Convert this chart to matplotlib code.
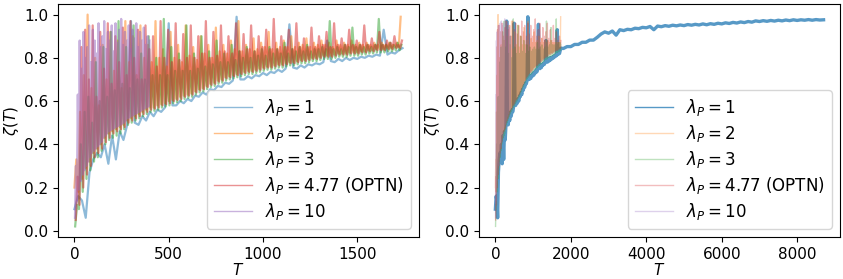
import numpy as np
import matplotlib.pyplot as plt

# Legend labels (one per arrival rate)
labels = [r"$\lambda_P = 1$", r"$\lambda_P = 2$", r"$\lambda_P = 3$",
          r"$\lambda_P = 4.77$ (OPTN)", r"$\lambda_P = 10$"]

# Time steps T for each run
t_lam1 = np.concatenate([np.arange(0, 1760, 20), np.arange(1800, 8800, 100)])
t_lam2 = np.arange(0, 1740, 10)
t_lam3 = np.arange(4, 1744, 10)
t_lam477 = np.arange(7, 1747, 10)
t_lam10 = np.arange(3, 403, 5)

# zeta(T) values
z_lam1 = [0.10, 0.16, 0.14, 0.06, 0.27, 0.33, 0.36, 0.34, 0.40, 0.31,
          0.44, 0.33, 0.46, 0.42, 0.49, 0.97, 0.50, 0.49, 0.53, 0.51,
          0.55, 0.53, 0.56, 0.55, 0.57, 0.96, 0.58, 0.58, 0.60, 0.59,
          0.61, 0.60, 0.625, 0.62, 0.64, 0.63, 0.655, 0.65, 0.67, 0.665,
          0.685, 0.68, 0.695, 0.99, 0.70, 0.70, 0.715, 0.705, 0.72, 0.715,
          0.73, 0.72, 0.735, 0.73, 0.745, 0.735, 0.75, 0.955, 0.755, 0.75,
          0.765, 0.755, 0.77, 0.765, 0.775, 0.77, 0.78, 0.88, 0.785, 0.78,
          0.795, 0.785, 0.80, 0.79, 0.80, 0.795, 0.805, 0.80, 0.81, 0.805,
          0.815, 0.81, 0.93, 0.815, 0.825, 0.82, 0.835, 0.845,
          # long run beyond T = 1750
          0.843, 0.852, 0.852, 0.862, 0.862, 0.872, 0.872, 0.882, 0.882, 0.895,
          0.910, 0.920, 0.914, 0.924, 0.905, 0.930, 0.926, 0.932, 0.930, 0.937,
          0.935, 0.941, 0.939, 0.945, 0.930, 0.947, 0.944, 0.949, 0.946, 0.951,
          0.948, 0.952, 0.949, 0.954, 0.951, 0.955, 0.952, 0.957, 0.953, 0.958,
          0.955, 0.960, 0.957, 0.962, 0.959, 0.964, 0.961, 0.966, 0.963, 0.968,
          0.965, 0.971, 0.968, 0.972, 0.969, 0.973, 0.970, 0.974, 0.971, 0.975,
          0.972, 0.976, 0.973, 0.976, 0.974, 0.977, 0.974, 0.977, 0.975, 0.976]

z_lam2 = [0.20, 0.33, 0.18, 0.55, 0.24, 0.72, 0.29, 1.00, 0.32, 0.66,
          0.36, 0.80, 0.38, 0.58, 0.40, 0.86, 0.43, 0.70, 0.45, 0.92,
          0.46, 0.74, 0.47, 0.88, 0.48, 0.66, 0.49, 0.97, 0.51, 0.78,
          0.52, 0.90, 0.53, 0.72, 0.54, 0.95, 0.55, 0.80, 0.56, 0.86,
          0.57, 0.78, 0.57, 0.97, 0.58, 0.80, 0.585, 0.84, 0.59, 0.76,
          0.60, 0.92, 0.605, 0.80, 0.61, 0.86, 0.62, 0.78, 0.625, 0.95,
          0.63, 0.81, 0.635, 0.85, 0.645, 0.79, 0.655, 0.90, 0.66, 0.82,
          0.67, 0.86, 0.68, 0.80, 0.685, 0.94, 0.695, 0.83, 0.70, 0.86,
          0.71, 0.82, 0.715, 0.88, 0.72, 0.84, 0.725, 0.97, 0.73, 0.83,
          0.735, 0.86, 0.74, 0.84, 0.74, 0.89, 0.745, 0.84, 0.75, 0.87,
          0.755, 0.85, 0.76, 0.92, 0.76, 0.84, 0.765, 0.87, 0.77, 0.85,
          0.77, 0.88, 0.775, 0.85, 0.78, 0.90, 0.78, 0.85, 0.785, 0.87,
          0.79, 0.86, 0.79, 0.89, 0.795, 0.85, 0.80, 0.87, 0.80, 0.86,
          0.805, 0.88, 0.81, 0.86, 0.81, 0.87, 0.81, 0.85, 0.815, 0.88,
          0.82, 0.86, 0.82, 0.87, 0.82, 0.86, 0.825, 0.88, 0.825, 0.86,
          0.825, 0.87, 0.83, 0.86, 0.83, 0.87, 0.835, 0.86, 0.835, 0.87,
          0.84, 0.86, 0.84, 0.87, 0.84, 0.86, 0.845, 0.87, 0.845, 0.86,
          0.85, 0.87, 0.85, 0.99]

z_lam3 = [0.02, 0.12, 0.10, 0.40, 0.18, 0.55, 0.24, 0.62, 0.28, 0.50,
          0.32, 0.78, 0.34, 0.60, 0.37, 0.85, 0.40, 0.62, 0.42, 0.92,
          0.43, 0.65, 0.44, 0.97, 0.45, 0.68, 0.47, 0.85, 0.49, 0.66,
          0.50, 0.95, 0.51, 0.70, 0.52, 0.82, 0.53, 0.70, 0.54, 0.90,
          0.55, 0.72, 0.555, 0.80, 0.56, 0.72, 0.57, 0.98, 0.575, 0.72,
          0.58, 0.85, 0.59, 0.74, 0.595, 0.82, 0.60, 0.74, 0.61, 0.95,
          0.615, 0.74, 0.62, 0.82, 0.63, 0.75, 0.64, 0.90, 0.645, 0.76,
          0.655, 0.83, 0.665, 0.77, 0.67, 0.88, 0.68, 0.78, 0.685, 0.82,
          0.695, 0.78, 0.70, 0.86, 0.705, 0.79, 0.71, 0.83, 0.715, 0.80,
          0.72, 0.85, 0.725, 0.80, 0.725, 0.83, 0.73, 0.81, 0.735, 0.84,
          0.74, 0.81, 0.745, 0.85, 0.745, 0.82, 0.75, 0.84, 0.755, 0.82,
          0.755, 0.87, 0.76, 0.82, 0.765, 0.84, 0.765, 0.83, 0.77, 0.85,
          0.775, 0.83, 0.775, 0.86, 0.78, 0.83, 0.785, 0.84, 0.785, 0.84,
          0.79, 0.85, 0.795, 0.84, 0.795, 0.97, 0.795, 0.84, 0.80, 0.85,
          0.805, 0.84, 0.805, 0.86, 0.805, 0.85, 0.81, 0.94, 0.81, 0.85,
          0.81, 0.86, 0.815, 0.85, 0.815, 0.86, 0.82, 0.85, 0.82, 0.86,
          0.825, 0.98, 0.825, 0.86, 0.825, 0.86, 0.83, 0.87, 0.83, 0.86,
          0.835, 0.87, 0.835, 0.86]

z_lam477 = [0.05, 0.25, 0.12, 0.85, 0.20, 0.93, 0.26, 0.70, 0.30, 0.95,
            0.34, 0.62, 0.36, 0.92, 0.38, 0.75, 0.41, 0.96, 0.43, 0.68,
            0.45, 0.90, 0.46, 0.78, 0.47, 0.94, 0.48, 0.72, 0.50, 0.97,
            0.51, 0.80, 0.52, 0.93, 0.53, 0.70, 0.54, 0.95, 0.55, 0.84,
            0.56, 0.90, 0.565, 0.76, 0.57, 0.97, 0.58, 0.80, 0.585, 0.93,
            0.59, 0.78, 0.60, 0.96, 0.605, 0.79, 0.61, 0.91, 0.62, 0.80,
            0.625, 0.95, 0.63, 0.80, 0.64, 0.90, 0.65, 0.82, 0.655, 0.97,
            0.665, 0.80, 0.675, 0.92, 0.68, 0.81, 0.69, 0.95, 0.695, 0.83,
            0.705, 0.90, 0.71, 0.82, 0.715, 0.96, 0.72, 0.83, 0.725, 0.91,
            0.73, 0.84, 0.735, 0.95, 0.735, 0.83, 0.74, 0.90, 0.745, 0.85,
            0.75, 0.93, 0.755, 0.84, 0.755, 0.98, 0.76, 0.84, 0.765, 0.90,
            0.765, 0.85, 0.77, 0.93, 0.775, 0.84, 0.775, 0.96, 0.78, 0.85,
            0.785, 0.89, 0.785, 0.85, 0.79, 0.94, 0.795, 0.85, 0.795, 0.90,
            0.80, 0.86, 0.805, 0.92, 0.805, 0.85, 0.805, 0.96, 0.81, 0.86,
            0.815, 0.89, 0.815, 0.86, 0.815, 0.93, 0.82, 0.86, 0.82, 0.88,
            0.82, 0.86, 0.825, 0.95, 0.825, 0.86, 0.83, 0.89, 0.83, 0.86,
            0.835, 0.92, 0.835, 0.86, 0.835, 0.88, 0.84, 0.87, 0.84, 0.90,
            0.845, 0.86, 0.845, 0.88]

z_lam10 = [0.06, 0.30, 0.14, 0.63, 0.19, 0.88, 0.23, 0.75, 0.26, 0.92,
           0.28, 0.80, 0.30, 0.85, 0.32, 0.95, 0.34, 0.78, 0.36, 0.93,
           0.37, 0.88, 0.38, 0.82, 0.39, 0.96, 0.40, 0.85, 0.41, 0.90,
           0.43, 0.97, 0.44, 0.84, 0.45, 0.92, 0.46, 0.88, 0.465, 0.95,
           0.47, 0.83, 0.475, 0.96, 0.48, 0.87, 0.485, 0.93, 0.49, 0.98,
           0.495, 0.86, 0.50, 0.92, 0.51, 0.88, 0.52, 0.95, 0.525, 0.84,
           0.53, 0.93, 0.535, 0.89, 0.54, 0.96, 0.545, 0.85, 0.55, 0.92,
           0.555, 0.88, 0.56, 0.94, 0.565, 0.86, 0.57, 0.90, 0.575, 0.88]

series_t = [t_lam1, t_lam2, t_lam3, t_lam477, t_lam10]
series_z = [np.array(z_lam1), np.array(z_lam2), np.array(z_lam3),
            np.array(z_lam477), np.array(z_lam10)]
colors = ["C0", "C1", "C2", "C3", "C4"]

plt.rcParams["font.size"] = 11

fig = plt.figure(figsize=(8.43, 2.79), dpi=100)
ax1 = fig.add_axes([0.0688, 0.1505, 0.4282, 0.8351])
ax2 = fig.add_axes([0.5682, 0.1505, 0.4282, 0.8351])

# Left panel: first 1750 steps of every run
for t, z, c, lab in zip(series_t, series_z, colors, labels):
    keep = t <= 1750
    ax1.plot(t[keep], z[keep], color=c, alpha=0.5, linewidth=1.6, label=lab)

# Right panel: full lambda=1 run highlighted, others faded
for i, (t, z, c, lab) in enumerate(zip(series_t, series_z, colors, labels)):
    if i == 0:
        ax2.plot(t, z, color=c, alpha=0.75, linewidth=2.4, label=lab)
    else:
        ax2.plot(t, z, color=c, alpha=0.3, linewidth=1.0, label=lab)

ax1.set_xticks([0, 500, 1000, 1500])
ax2.set_xticks([0, 2000, 4000, 6000, 8000])

for ax in (ax1, ax2):
    ax.set_yticks([0.0, 0.2, 0.4, 0.6, 0.8, 1.0])
    ax.set_xlabel(r"$T$", labelpad=0)
    ax.set_ylabel(r"$\zeta(T)$", labelpad=2)
    leg = ax.legend(loc="lower right", fontsize=12, labelspacing=0.3,
                    handlelength=2.3)
    for line in leg.get_lines():
        line.set_linewidth(1.0)

plt.savefig("out.png", dpi=100)
